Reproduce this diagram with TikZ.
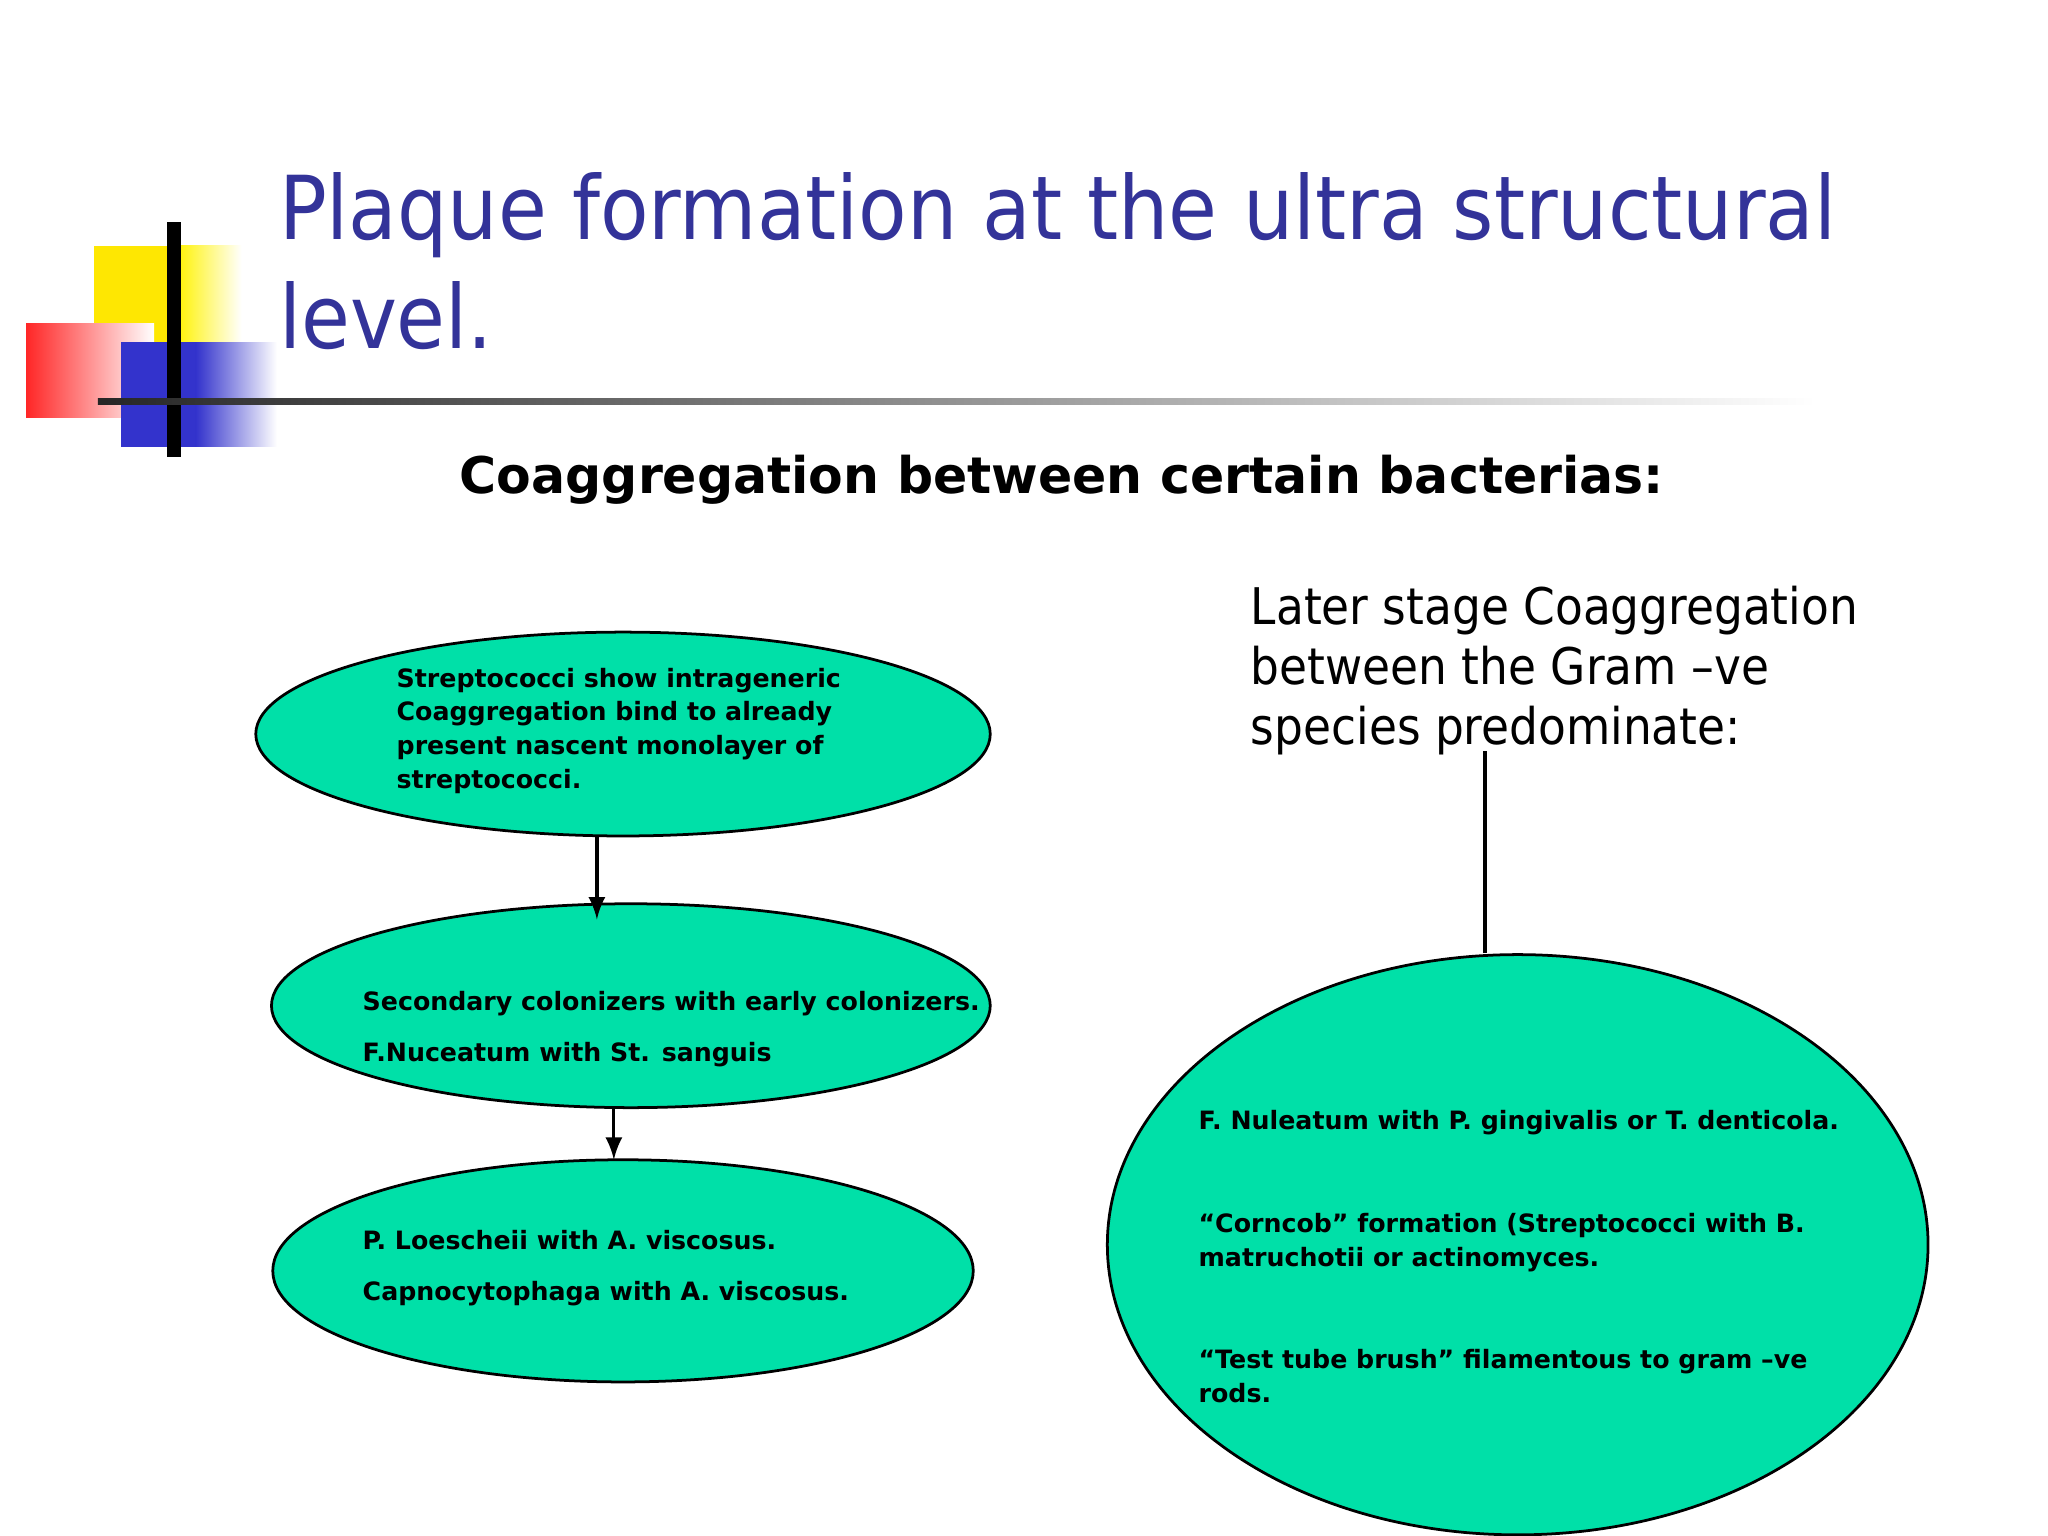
\documentclass[tikz,border=0pt]{standalone}
\usepackage{fontspec}
\setmainfont{DejaVu Sans}
\newfontfamily\condf{DejaVu Sans Condensed}
\usetikzlibrary{shapes.geometric,calc}
\definecolor{ell}{HTML}{00E0A8}
\definecolor{ttl}{HTML}{333399}
\tikzset{
 oval/.style={ellipse,draw=black,fill=ell,line width=0.6pt},
 etext/.style={anchor=base west,inner sep=0,font=\fontsize{5.5}{7}\selectfont\bfseries},
 ttext/.style={anchor=base west,inner sep=0,text=ttl,font=\condf\fontsize{19.2}{24}\selectfont},
 rtext/.style={anchor=base west,inner sep=0,font=\condf\fontsize{11}{14}\selectfont},
 conn/.style={line width=0.7pt},
}
\begin{document}
\begin{tikzpicture}[x=0.01cm,y=-0.01cm]
\useasboundingbox[fill=white] (0,0) rectangle (1568,1176);
% decoration
\fill[yellow!90!orange] (72,188) rectangle (135,262);
\shade[left color=yellow!90!orange,right color=white] (135,188) rectangle (185,262);
\shade[left color=red!85,right color=white] (20,248) rectangle (118,320);
\fill[blue!75!black!80] (93,262) rectangle (150,342);
\shade[left color=blue!75!black!80,right color=white] (150,262) rectangle (212,342);
\draw[line width=3pt] (133,170) -- (133,350);
\shade[left color=black!85,right color=white] (75,305) rectangle (1390,310);
\node[ttext] (t1) at (213,183) {Plaque formation at the ultra structural};
\node[ttext] (t2) at (213,267) {level.};
\node[anchor=base,inner sep=0,font=\fontsize{11}{14}\selectfont\bfseries] (sub) at (813,378) {Coaggregation between certain bacterias:};
% ellipses
\node[oval,minimum width=5.62cm,minimum height=1.56cm] (e1) at (477,562) {};
\node[oval,minimum width=5.50cm,minimum height=1.56cm] (e2) at (483,770) {};
\node[oval,minimum width=5.36cm,minimum height=1.70cm] (e3) at (477,973) {};
\node[oval,minimum width=6.28cm,minimum height=4.44cm] (e4) at (1162,953) {};
\node[etext] (a1) at (303,526) {Streptococci show intrageneric};
\node[etext] (a2) at (303,552) {Coaggregation bind to already};
\node[etext] (a3) at (303,578) {present nascent monolayer of};
\node[etext] (a4) at (303,604) {streptococci.};
\node[etext] (b1) at (277,774) {Secondary colonizers with early colonizers.};
\node[etext] (b2) at (277,813) {F.Nuceatum with St. sanguis};
\node[etext] (c1) at (277,957) {P. Loescheii with A. viscosus.};
\node[etext] (c2) at (277,996) {Capnocytophaga with A. viscosus.};
\node[etext] (d1) at (917,865) {F. Nuleatum with P. gingivalis or T. denticola.};
\node[etext] (d2) at (917,944) {“Corncob” formation (Streptococci with B.};
\node[etext] (d3) at (917,970) {matruchotii or actinomyces.};
\node[etext] (d4) at (917,1048) {“Test tube brush” filamentous to gram –ve};
\node[etext] (d5) at (917,1074) {rods.};
\node[rtext] (r1) at (957,478) {Later stage Coaggregation};
\node[rtext] (r2) at (957,524) {between the Gram –ve};
\node[rtext] (r3) at (957,570) {species predominate:};
% connectors
\coordinate (p1) at (457,640);
\coordinate (p2) at (457,704);
\coordinate (q1) at (470,849);
\coordinate (q2) at (470,888);
\coordinate (s1) at (1137,575);
\draw[conn,-latex] (p1) -- (p2);
\draw[conn,-latex] (q1) -- (q2);
\draw[conn] (s1) -- (s1 |- e4.north);
\end{tikzpicture}
\end{document}
